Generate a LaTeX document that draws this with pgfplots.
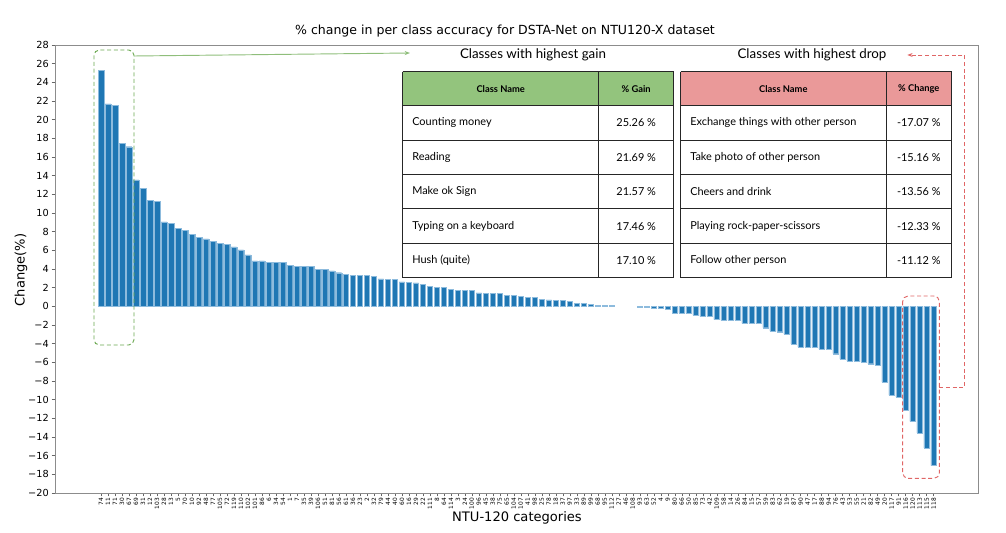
\documentclass[border=0pt]{standalone}
\usepackage{fontspec}
\setmainfont{DejaVu Sans}
\newfontfamily\tabfont{Lato}
\usepackage{pgfplots}
\pgfplotsset{compat=1.18}
\usetikzlibrary{arrows.meta}
\definecolor{barblue}{HTML}{1F77B4}
\definecolor{baredge}{HTML}{8DBBDD}
\definecolor{hdrgreen}{HTML}{93C47D}
\definecolor{hdrred}{HTML}{EA9999}
\definecolor{boxgreen}{HTML}{6AA84F}
\definecolor{boxred}{HTML}{E06666}
\begin{document}
\begin{tikzpicture}
\path[use as bounding box] (0,0) rectangle (754.5pt,399pt);
\begin{axis}[
  at={(41.25pt,29.25pt)}, anchor=south west,
  scale only axis, width=692.25pt, height=336pt,
  xmin=-6.57, xmax=125.33, ymin=-20, ymax=28,
  ytick={-20,-18,-16,-14,-12,-10,-8,-6,-4,-2,0,2,4,6,8,10,12,14,16,18,20,22,24,26,28},
  yticklabels={−20,−18,−16,−14,−12,−10,−8,−6,−4,−2,0,2,4,6,8,10,12,14,16,18,20,22,24,26,28},
  xtick={0,...,119},
  xticklabels={74,11,71,30,67,69,31,12,103,28,13,5,70,10,92,48,77,105,72,119,110,102,101,86,6,34,54,1,7,35,39,106,51,81,56,61,36,23,2,32,79,44,40,60,16,29,22,111,8,64,114,3,24,100,96,45,38,75,65,104,107,41,98,25,78,18,37,97,33,89,99,68,95,112,27,46,108,93,63,52,4,9,80,66,50,85,73,42,109,58,14,26,84,15,57,59,83,62,19,87,90,47,17,88,94,76,43,53,55,21,82,49,20,117,91,116,120,113,115,118},
  xticklabel style={rotate=90, anchor=east, font=\fontsize{4.4}{5}\selectfont, inner sep=1pt},
  yticklabel style={font=\fontsize{7.3}{8}\selectfont, inner sep=2pt},
  tick align=outside, major tick length=2.5pt,
  xtick pos=lower, ytick pos=left,
  axis line style={draw=black!45},
  tick style={black!60, line width=0.4pt},
]
\addplot[ybar, bar width=0.8, fill=barblue, draw=baredge, line width=0.3pt] coordinates {
(0,25.26) (1,21.69) (2,21.57) (3,17.46) (4,17.10) (5,13.55) (6,12.66) (7,11.37) (8,11.27) (9,9.05)
(10,8.87) (11,8.33) (12,8.15) (13,7.69) (14,7.40) (15,7.22) (16,6.94) (17,6.76) (18,6.62) (19,6.37)
(20,6.04) (21,5.50) (22,4.86) (23,4.86) (24,4.68) (25,4.68) (26,4.68) (27,4.36) (28,4.29) (29,4.29)
(30,4.29) (31,3.97) (32,3.93) (33,3.79) (34,3.60) (35,3.40) (36,3.29) (37,3.29) (38,3.29) (39,3.18)
(40,2.93) (41,2.90) (42,2.90) (43,2.61) (44,2.57) (45,2.50) (46,2.36) (47,2.15) (48,2.07) (49,2.00)
(50,1.79) (51,1.72) (52,1.68) (53,1.68) (54,1.43) (55,1.39) (56,1.36) (57,1.36) (58,1.14) (59,1.14)
(60,1.04) (61,0.97) (62,0.97) (63,0.72) (64,0.68) (65,0.64) (66,0.64) (67,0.50) (68,0.32) (69,0.29)
(70,0.18) (71,0.11) (72,0.11) (73,0.11)
(77,-0.07) (78,-0.07) (79,-0.25)
(80,-0.25) (81,-0.30) (82,-0.72) (83,-0.72) (84,-0.75) (85,-0.93) (86,-1.07) (87,-1.07) (88,-1.43) (89,-1.50)
(90,-1.50) (91,-1.50) (92,-1.82) (93,-1.82) (94,-1.86) (95,-2.29) (96,-2.65) (97,-2.72) (98,-2.97) (99,-4.01)
(100,-4.36) (101,-4.36) (102,-4.43) (103,-4.58) (104,-4.58) (105,-5.08) (106,-5.65) (107,-5.87) (108,-5.87) (109,-5.94)
(110,-6.15) (111,-6.26) (112,-8.12) (113,-9.51) (114,-9.69) (115,-11.12) (116,-12.33) (117,-13.56) (118,-15.16) (119,-17.07)
};
\end{axis}
\begin{scope}[x=0.75pt, y=-0.75pt, shift={(0pt,399pt)}]
% title and axis labels
\node[font=\fontsize{9.4}{11}\selectfont] at (505,31) {\% change in per class accuracy for DSTA-Net on NTU120-X dataset};
\node[font=\fontsize{9.8}{11}\selectfont] at (517,518) {NTU-120 categories};
\node[rotate=90, font=\fontsize{9.8}{11}\selectfont] at (21,270) {Change(\%)};
% highlight boxes and arrows
\draw[boxgreen, dash pattern=on 3pt off 2pt, rounded corners=4pt, line width=0.7pt] (94,50) rectangle (134,345);
\draw[boxgreen!75, line width=0.7pt, -{Stealth[length=4pt,width=3pt]}] (134,56) -- (410,53);
\draw[boxred, dash pattern=on 3pt off 2pt, rounded corners=4pt, line width=0.7pt] (902.7,296) rectangle (939.3,478.3);
\draw[boxred, dash pattern=on 3pt off 2pt, line width=0.7pt, -{Stealth[length=4pt,width=3pt]}] (939.3,387.3) -- (964.7,387.3) -- (964.7,55) -- (907.3,55);
% table titles
\node[font=\tabfont\fontsize{10}{12}\selectfont] at (533,55) {Classes with highest gain};
\node[font=\tabfont\fontsize{10}{12}\selectfont] at (812,55) {Classes with highest drop};
% left table
\fill[white] (402.7,105.7) rectangle (673.7,277.7);
\fill[hdrgreen] (402.7,71.7) rectangle (673.7,105.7);
\foreach \yy in {71.7,105.7,140.1,174.5,208.9,243.3,277.7} {\draw[black!85, line width=0.6pt] (402.7,\yy) -- (673.7,\yy);}
\foreach \xx in {402.7,598.7,673.7} {\draw[black!85, line width=0.6pt] (\xx,71.7) -- (\xx,277.7);}
\node[font=\tabfont\bfseries\fontsize{7}{8}\selectfont] at (500.7,88.7) {Class Name};
\node[font=\tabfont\bfseries\fontsize{7}{8}\selectfont] at (636.2,88.7) {\% Gain};
\foreach \yy/\nm/\vv in {122.9/Counting money/25.26 \%, 157.3/Reading/21.69 \%, 191.7/Make ok Sign/21.57 \%, 226.1/Typing on a keyboard/17.46 \%, 260.5/Hush (quite)/17.10 \%} {
  \node[font=\tabfont\fontsize{8.2}{10}\selectfont, anchor=west, inner sep=0pt] at (412,\yy) {\nm};
  \node[font=\tabfont\fontsize{8.2}{10}\selectfont] at (636.2,\yy) {\vv};
}
% right table
\fill[white] (680.7,105.7) rectangle (951.7,277.7);
\fill[hdrred] (680.7,71.7) rectangle (951.7,105.7);
\foreach \yy in {71.7,105.7,140.1,174.5,208.9,243.3,277.7} {\draw[black!85, line width=0.6pt] (680.7,\yy) -- (951.7,\yy);}
\foreach \xx in {680.7,886,951.7} {\draw[black!85, line width=0.6pt] (\xx,71.7) -- (\xx,277.7);}
\node[font=\tabfont\bfseries\fontsize{7}{8}\selectfont] at (783.3,88.7) {Class Name};
\node[font=\tabfont\bfseries\fontsize{7}{8}\selectfont] at (918.8,88.7) {\% Change};
\foreach \yy/\nm/\vv in {122.9/Exchange things with other person/-17.07 \%, 157.3/Take photo of other person/-15.16 \%, 191.7/Cheers and drink/-13.56 \%, 226.1/Playing rock-paper-scissors/-12.33 \%, 260.5/Follow other person/-11.12 \%} {
  \node[font=\tabfont\fontsize{8.2}{10}\selectfont, anchor=west, inner sep=0pt] at (690,\yy) {\nm};
  \node[font=\tabfont\fontsize{8.2}{10}\selectfont] at (918.8,\yy) {\vv};
}
\end{scope}
\end{tikzpicture}
\end{document}
